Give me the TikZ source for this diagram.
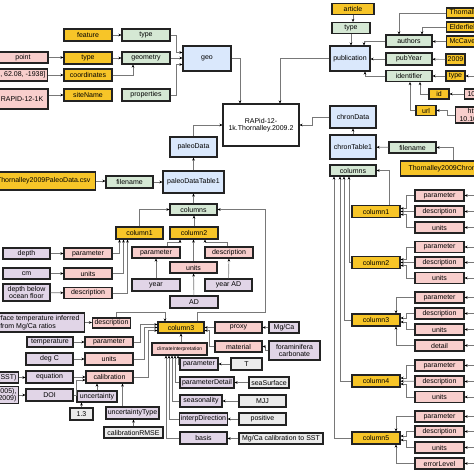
\documentclass[tikz,border=0pt]{standalone}
\usepackage{fontspec}
\setmainfont{Liberation Sans}
\usetikzlibrary{arrows.meta}
\definecolor{boxLine}{RGB}{35,35,35}
\definecolor{linkColor}{RGB}{120,120,120}
\definecolor{yellowFill}{RGB}{247,197,40}
\definecolor{greenFill}{RGB}{213,232,212}
\definecolor{blueFill}{RGB}{218,232,252}
\definecolor{pinkFill}{RGB}{248,206,204}
\definecolor{lavenderFill}{RGB}{225,213,231}
\definecolor{grayFill}{RGB}{235,235,235}
\tikzstyle{lipd} = [x = 1pt, y = -1pt, every node/.style={font=\fontsize{7}{7.6}\selectfont}]
\tikzstyle{fieldBox} = [draw=boxLine, line width=1.1pt, inner sep=1pt, minimum height=11, align=center]
\tikzstyle{yellowBox} = [fieldBox, fill=yellowFill]
\tikzstyle{greenBox} = [fieldBox, fill=greenFill]
\tikzstyle{blueBox} = [fieldBox, fill=blueFill]
\tikzstyle{pinkBox} = [fieldBox, fill=pinkFill]
\tikzstyle{lavenderBox} = [fieldBox, fill=lavenderFill]
\tikzstyle{grayBox} = [fieldBox, fill=grayFill]
\tikzstyle{link} = [draw=linkColor, line width=.65pt, -{Stealth[length=3pt, width=2.6pt, black]}]
\newcommand{\fieldNode}[5]{\node [#1, minimum width = #2] (#3) at (#4) {#5};}

\begin{document}
\begin{tikzpicture}[lipd]
  \useasboundingbox (0,0) rectangle (474,474);
  \fill [white] (0,0) rectangle (474,474);
  \clip (0,0) rectangle (474,474);

  % geo
  \fieldNode{yellowBox, minimum height=12}{48}{feature}{88,35}{feature}
  \fieldNode{greenBox, minimum height=12}{48}{geoType}{146,35}{type}
  \fieldNode{blueBox, minimum height=25}{48}{geo}{207,58.5}{geo}
  \fieldNode{pinkBox}{50}{pointVal}{23,57.5}{point}
  \fieldNode{yellowBox, minimum height=12}{48}{geomType}{88,58}{type}
  \fieldNode{greenBox, minimum height=12}{48}{geometry}{146,58}{geometry}
  \fieldNode{pinkBox, minimum height=12, anchor=east, inner xsep=2pt}{0}{coordVal}{48,75}{[-17.82, 62.08, -1938]}
  \fieldNode{yellowBox, minimum height=12}{48}{coordinates}{88,75}{coordinates}
  \fieldNode{pinkBox, minimum height=20}{52}{siteVal}{22,99}{RAPID-12-1K}
  \fieldNode{yellowBox, minimum height=12}{48}{siteName}{88,95}{siteName}
  \fieldNode{greenBox, minimum height=12}{48}{properties}{146,95}{properties}

  % dataset and publication
  \fieldNode{fieldBox, fill=white, minimum height=42}{76}{dataset}{261,125}{RAPid-12-\\1k.Thornalley.2009.2}
  \fieldNode{yellowBox}{42}{article}{353,9}{article}
  \fieldNode{greenBox}{38}{pubType}{351,28}{type}
  \fieldNode{blueBox, minimum height=25}{40}{publication}{350,58.5}{publication}
  \fieldNode{greenBox, minimum height=12}{46}{authors}{409,41}{authors}
  \fieldNode{greenBox, minimum height=12}{46}{pubYear}{409,59}{pubYear}
  \fieldNode{greenBox}{46}{identifier}{409,76}{identifier}
  \fieldNode{yellowBox, minimum height=10, anchor=west, inner xsep=3pt}{0}{author1}{446,13}{Thornalley, D. J. R.}
  \fieldNode{yellowBox, minimum height=10, anchor=west, inner xsep=3pt}{0}{author2}{446,27}{Elderfield, H.}
  \fieldNode{yellowBox, anchor=west, inner xsep=3pt}{0}{author3}{446,41.5}{McCave, I. N.}
  \fieldNode{yellowBox}{19}{pubYearVal}{455.5,59.5}{2009}
  \fieldNode{yellowBox, minimum height=10}{19}{idType}{455.5,76}{type}
  \fieldNode{yellowBox, minimum height=10}{20}{idKey}{439,94}{id}
  \fieldNode{pinkBox, minimum height=10, anchor=west, inner xsep=3pt}{0}{idVal}{464,94}{10.1038/nature07717}
  \fieldNode{yellowBox, minimum height=10}{20}{urlKey}{426,110.5}{url}
  \fieldNode{pinkBox, minimum height=16, anchor=west, inner xsep=4pt}{0}{urlVal}{455,115}{http://dx.doi.org/\\10.1038/nature07717}

  % chronData
  \fieldNode{blueBox, minimum height=22}{46}{chronData}{353,117}{chronData}
  \fieldNode{blueBox, minimum height=24}{46}{chronTable}{353,147}{chronTable1}
  \fieldNode{greenBox}{47}{chronFile}{412.5,147.5}{filename}
  \fieldNode{yellowBox, minimum height=15, anchor=west, inner xsep=8pt}{0}{chronCsv}{400,168.5}{Thornalley2009ChronData.csv}
  \fieldNode{greenBox}{46}{chronCols}{353,170.5}{columns}
  \foreach \c/\y in {1/211.5, 2/262.5, 3/320, 4/381, 5/438} {
    \fieldNode{yellowBox, minimum height=12}{48}{chronCol\c}{376,\y}{column\c}
  }
  \foreach \n/\y/\t in {param1/195.5/parameter, desc1/211.5/description, units1/227.5/units,
                         param2/247/parameter, desc2/262.5/description, units2/278/units,
                         param3/297.5/parameter, desc3/313.5/description, units3/329.5/units, detail3/345.5/detail,
                         param4/365.5/parameter, desc4/381.5/description, units4/397/units,
                         param5/416.5/parameter, desc5/431.5/description, units5/447.5/units, error5/463.5/errorLevel} {
    \fieldNode{pinkBox}{49}{\n}{439.5,\y}{\t}
  }

  % paleoData
  \fieldNode{blueBox, minimum height=20}{47}{paleoData}{193.5,147}{paleoData}
  \fieldNode{blueBox, minimum height=22}{61}{paleoTable}{193.5,182}{paleoDataTable1}
  \fieldNode{greenBox, minimum height=12}{47}{paleoFile}{129.5,182}{filename}
  \fieldNode{yellowBox, minimum height=18, anchor=east, inner xsep=5pt}{0}{paleoCsv}{96,181}{Thornalley2009PaleoData.csv}
  \fieldNode{greenBox}{47}{paleoCols}{193.5,209.5}{columns}
  \fieldNode{yellowBox, minimum height=12}{47}{paleoCol1}{139.5,233}{column1}
  \fieldNode{yellowBox, minimum height=12}{48}{paleoCol2}{194,233}{column2}

  \fieldNode{lavenderBox}{47}{depthVal}{26.5,253.5}{depth}
  \fieldNode{pinkBox}{48}{depthParam}{88,253.5}{parameter}
  \fieldNode{lavenderBox}{47}{cmVal}{26.5,273.5}{cm}
  \fieldNode{pinkBox}{48}{depthUnits}{88,273.5}{units}
  \fieldNode{lavenderBox, minimum height=17}{47}{depthDescVal}{26.5,292.5}{depth below\\ocean floor}
  \fieldNode{pinkBox}{48}{depthDesc}{88,293}{description}

  \fieldNode{pinkBox}{48}{yearParam}{156,252.5}{parameter}
  \fieldNode{pinkBox}{48}{yearDesc}{229,252.5}{description}
  \fieldNode{pinkBox}{47}{yearUnits}{193.5,267.5}{units}
  \fieldNode{lavenderBox, minimum height=12}{48}{yearVal}{156,285}{year}
  \fieldNode{lavenderBox, minimum height=12}{47}{yearAdVal}{228.5,285}{year AD}
  \fieldNode{lavenderBox, minimum height=12}{48}{adVal}{194,302}{AD}

  \fieldNode{yellowBox}{46}{paleoCol3}{181,327.5}{column3}
  \fieldNode{lavenderBox, minimum height=19, anchor=east, inner xsep=5pt}{0}{tempDescVal}{85,322.5}{Sea surface temperature inferred\\from Mg/Ca ratios}
  \fieldNode{pinkBox, minimum height=10}{38}{tempDesc}{111.5,323}{description}
  \fieldNode{lavenderBox, minimum height=10}{46}{tempVal}{50,342}{temperature}
  \fieldNode{pinkBox, minimum height=10}{48}{tempParam}{109,342}{parameter}
  \fieldNode{lavenderBox, minimum height=12}{47}{degCVal}{49.5,359}{deg C}
  \fieldNode{pinkBox, minimum height=12}{48}{tempUnits}{109,359}{units}
  \fieldNode{lavenderBox, anchor=east, inner xsep=2pt}{0}{equationVal}{19,377.5}{(SST)}
  \fieldNode{lavenderBox, minimum height=12}{47}{equation}{49.5,377}{equation}
  \fieldNode{pinkBox, minimum height=12}{47}{calibration}{109.5,377}{calibration}
  \fieldNode{lavenderBox, minimum height=14, anchor=east, inner xsep=2pt, align=right}{0}{doiVal}{19,395}{(2005),\\(2009)}
  \fieldNode{lavenderBox, minimum height=12}{47}{doi}{49.5,395}{DOI}
  \fieldNode{lavenderBox}{40}{uncertainty}{97,396.5}{uncertainty}
  \fieldNode{grayBox, minimum height=12}{23}{uncVal}{81.5,414}{1.3}
  \fieldNode{lavenderBox, minimum height=12}{53}{uncType}{132.5,413}{uncertaintyType}
  \fieldNode{grayBox}{59}{uncTypeVal}{133.5,432.5}{calibrationRMSE}

  % climateInterpretation
  \fieldNode{pinkBox, minimum height=12, font=\fontsize{5}{6}\selectfont}{55}{climInterp}{179.5,349}{climateInterpretation}
  \fieldNode{pinkBox}{47}{proxy}{238.5,327.5}{proxy}
  \fieldNode{lavenderBox}{30}{proxyVal}{284,327.5}{Mg/Ca}
  \fieldNode{pinkBox}{47}{material}{238.5,346.5}{material}
  \fieldNode{lavenderBox, minimum height=19}{51}{materialVal}{294.5,350.5}{foraminifera\\carbonate}
  \fieldNode{lavenderBox, minimum height=12}{38}{ciParam}{199,364}{parameter}
  \fieldNode{grayBox, minimum height=12}{31}{ciParamVal}{246.5,364}{T}
  \fieldNode{lavenderBox}{54}{ciDetail}{207,382.5}{parameterDetail}
  \fieldNode{grayBox}{40}{ciDetailVal}{269,382.5}{seaSurface}
  \fieldNode{lavenderBox, minimum height=12}{42}{ciSeason}{201,401}{seasonality}
  \fieldNode{grayBox, minimum height=12}{47}{ciSeasonVal}{262.5,401}{MJJ}
  \fieldNode{lavenderBox, minimum height=12}{47}{ciDir}{203.5,419}{interpDirection}
  \fieldNode{grayBox, minimum height=12}{47}{ciDirVal}{262.5,419}{positive}
  \fieldNode{lavenderBox, minimum height=12}{47}{ciBasis}{203.5,438}{basis}
  \fieldNode{grayBox}{84}{ciBasisVal}{281,438.5}{Mg/Ca calibration to SST}

  % links: geo
  \draw [link] (feature) -- (geoType);
  \draw [link] (geoType.east) -- ++(6,0) |- ([yshift=6pt]geo.west);
  \draw [link] (geomType) -- (geometry);
  \draw [link] (geometry) -- (geometry -| geo.west);
  \draw [link] (properties.east) -- ++(6,0) |- ([yshift=-6pt]geo.west);
  \draw [link] (pointVal.east) -- (pointVal.east -| geomType.west);
  \draw [link] (coordVal) -- (coordinates);
  \draw [link] (coordinates.east) -| ([xshift=-13pt]geometry.south);
  \draw [link] (siteName.west -| siteVal.east) -- (siteName.west);
  \draw [link] (geo.east) -| ([xshift=-21pt]dataset.north);
  \draw [link] (publication.west) -| ([xshift=19pt]dataset.north);

  % links: publication
  \draw [link] (article) -- (article |- pubType.north);
  \draw [link] (pubType) -- (pubType |- publication.north);
  \draw [link] (authors.west) -| ([xshift=14pt]publication.north);
  \draw [link] (pubYear.west) -- (pubYear.west -| publication.east);
  \draw [link] (identifier.west) -| ([xshift=15pt]publication.south);
  \draw [link] (author1.west) -| ([xshift=-10pt]authors.north);
  \draw [link] (author2.west) -| ([xshift=13pt]authors.north);
  \draw [link] (author3.west) -- (author3.west -| authors.east);
  \draw [link] (pubYearVal) -- (pubYear);
  \draw [link] (idType) -- (identifier);
  \draw [link] (idKey.west) -| ([xshift=11pt]identifier.south);
  \draw [link] (urlKey.west) -| ([xshift=1pt]identifier.south);
  \draw [link] (idVal.west) -- (idKey.east);
  \draw [link] (urlVal.west) -- ++(-8,0) |- (urlKey.east);

  % links: dataset, chronData
  \draw [link] (chronData.west) -- ++(-17,0) |- (dataset.east);
  \draw [link] (paleoData.north) |- (dataset.west);
  \draw [link] (chronTable) -- (chronData);
  \draw [link] (chronFile) -- (chronTable);
  \draw [link] ([xshift=53pt]chronCsv.north west) |- (chronFile.east);
  \draw [link] ([xshift=13pt]chronCol1.north) |- (chronCols.east);
  \foreach \c/\s in {2/-4, 3/-9, 4/-13, 5/-19} {
    \draw [link] (chronCol\c.west) -| ([xshift=\s pt]chronCols.south);
  }
  \foreach \c in {1, 2, 4} {
    \draw [link] (param\c.west) -- ++(-8,0) |- ([yshift=3pt]chronCol\c.east);
    \draw [link] (desc\c) -- (chronCol\c);
    \draw [link] (units\c.west) -- ++(-8,0) |- ([yshift=-3pt]chronCol\c.east);
  }
  \foreach \c in {3, 5} {
    \draw [link] (param\c.west) -| ([xshift=20pt]chronCol\c.north);
    \draw [link] (desc\c.west) -- ++(-8,0) |- ([yshift=2pt]chronCol\c.east);
    \draw [link] (units\c.west) -- ++(-8,0) |- ([yshift=-2pt]chronCol\c.east);
  }
  \draw [link] (detail3.west) -| ([xshift=20pt]chronCol3.south);
  \draw [link] (error5.west) -| ([xshift=20pt]chronCol5.south);
  \foreach \n in {param1, desc1, units1, param2, desc2, units2, param3, desc3, units3, detail3,
                  param4, desc4, units4, param5, desc5, units5, error5, idType} {
    \coordinate (\n-in) at ([xshift=14pt]\n.east);
    \draw [link] (\n-in) -- (\n.east);
  }

  % links: paleoData
  \draw [link] (paleoTable) -- (paleoData);
  \draw [link] (paleoFile) -- (paleoTable);
  \draw [link] (paleoCsv.east) -- (paleoCsv.east -| paleoFile.west);
  \draw [link] (paleoCols) -- (paleoTable);
  \draw [link] (paleoCol1.north) |- (paleoCols.west);
  \draw [link] (paleoCol2.north) -- (paleoCol2.north |- paleoCols.south);
  \draw [link] ([xshift=16pt]paleoCol3.north) -- ++(0,-9) -- ++(68,0) |- (paleoCols.east);

  \draw [link] (depthVal) -- (depthParam);
  \draw [link] (cmVal) -- (depthUnits);
  \draw [link] (depthDescVal) -- (depthDesc);
  \draw [link] (depthParam.east) -| ([xshift=-20pt]paleoCol1.south);
  \draw [link] (depthUnits.east) -| ([xshift=-16pt]paleoCol1.south);
  \draw [link] (depthDesc.east) -| ([xshift=-12pt]paleoCol1.south);

  \draw [link] ([xshift=11pt]yearParam.north) -- ++(0,-4) -| ([xshift=-14pt]paleoCol2.south);
  \draw [link] (yearUnits.north) -- (yearUnits.north |- paleoCol2.south);
  \draw [link] ([xshift=-2pt]yearDesc.north) -- ++(0,-4) -| ([xshift=11pt]paleoCol2.south);
  \draw [link] (yearVal) -- (yearParam);
  \draw [link] (adVal) -- (yearUnits);
  \draw [link] (yearAdVal) -- (yearDesc);

  \draw [link] (tempDescVal.east) -- (tempDescVal.east -| tempDesc.west);
  \draw [link] ([xshift=5pt]tempDesc.north) -- ++(0,-5) -| ([xshift=-16pt]paleoCol3.north);
  \draw [link] (tempParam.east) -- ++(7,0) |- ([yshift=3pt]paleoCol3.west);
  \draw [link] (tempUnits.east) -- ++(11,0) |- (paleoCol3.west);
  \draw [link] (calibration.east) -- ++(15,0) |- ([yshift=-3pt]paleoCol3.west);
  \draw [link] (tempVal) -- (tempParam);
  \draw [link] (degCVal) -- (tempUnits);
  \draw [link] (equation) -- (calibration);
  \draw [link] (equationVal.east) -- (equationVal.east -| equation.west);
  \draw [link] (doiVal.east) -- (doiVal.east -| doi.west);
  \draw [link] (doi.east) -- ++(2.5,0) |- ([yshift=-3pt]calibration.west);
  \draw [link] (uncertainty) -- (uncertainty |- calibration.south);
  \draw [link] (uncVal) -- (uncVal |- uncertainty.south);
  \draw [link] ([xshift=-10pt]uncType.north) -- ([xshift=-10pt]uncType.north |- calibration.south);
  \draw [link] (uncTypeVal) -- (uncTypeVal |- uncType.south);

  % links: climateInterpretation
  \draw [link] (climInterp.north -| paleoCol3.south) -- (paleoCol3.south);
  \draw [link] (proxy) -- (paleoCol3);
  \draw [link] (material.west) -- ++(-5,0) |- ([yshift=-3pt]paleoCol3.east);
  \draw [link] (proxyVal) -- (proxy);
  \draw [link] (materialVal.west) -- ++(-3,0) |- (material.east);
  \draw [link] (ciParamVal) -- (ciParam);
  \draw [link] (ciDetailVal) -- (ciDetail);
  \draw [link] (ciSeasonVal) -- (ciSeason);
  \draw [link] (ciDirVal) -- (ciDir);
  \draw [link] (ciBasisVal.west) -- (ciBasisVal.west -| ciBasis.east);
  \draw [link] (ciParam.west) -| ([xshift=-1.5pt]climInterp.south);
  \draw [link] (ciDetail.west) -| ([xshift=-4.5pt]climInterp.south);
  \draw [link] (ciSeason.west) -| ([xshift=-7.5pt]climInterp.south);
  \draw [link] (ciDir.west) -| ([xshift=-10.5pt]climInterp.south);
  \draw [link] (ciBasis.west) -| ([xshift=-13.5pt]climInterp.south);
\end{tikzpicture}
\end{document}
